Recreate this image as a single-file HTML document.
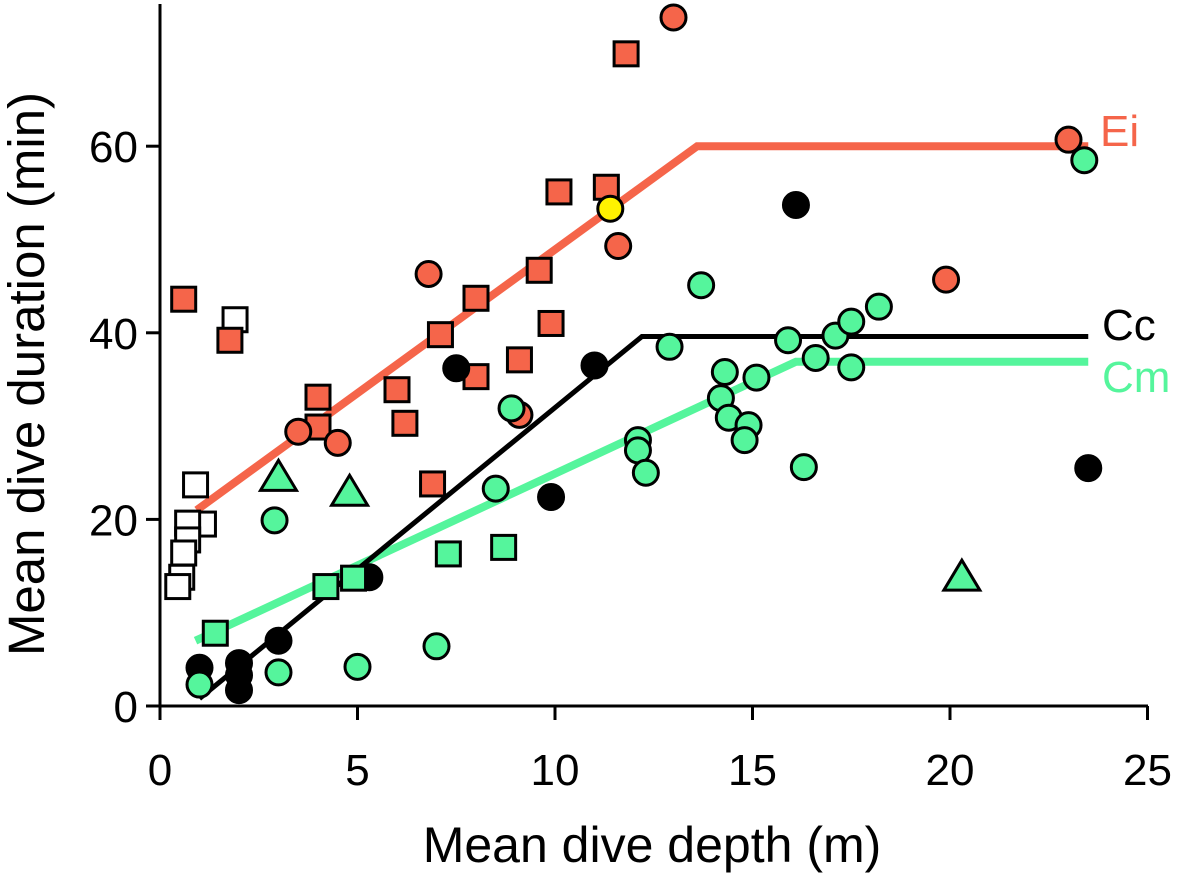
<!DOCTYPE html>
<html><head><meta charset="utf-8"><style>
body{margin:0;background:#fff}
svg{display:block;font-family:"Liberation Sans",sans-serif}
</style></head><body>
<svg id="chart" width="1180" height="878">
<g id="lines"></g><g id="marks"></g><g id="axes"></g>
</svg>
<script>
const xTicks=[0,5,10,15,20,25];
const yTicks=[0,20,40,60];
const eiLine=[[0.93,21],[13.6,60],[23.5,60]];
const ccLine=[[1.0,0.8],[12.2,39.6],[23.5,39.6]];
const cmLine=[[0.9,7],[16.1,36.9],[23.5,36.9]];
const whiteSq=[[1.9,41.4],[0.9,23.7],[1.1,19.5],[0.7,19.6],[0.7,17.8],[0.6,16.4],[0.55,13.8],[0.45,12.8]];
const redSq=[[0.6,43.6],[1.77,39.2],[4.0,33.1],[4.0,29.9],[6.0,33.9],[6.2,30.3],[7.1,39.8],[8.0,43.7],[8.0,35.3],[9.1,37.1],[6.9,23.8],[9.9,41.0],[9.6,46.7],[10.1,55.1],[11.3,55.6],[11.8,69.9]];
const redCi=[[6.8,46.3],[3.5,29.4],[4.5,28.2],[9.1,31.2],[11.6,49.3],[13.0,73.8],[23.0,60.7],[19.9,45.7]];
const yellowCi=[[11.4,53.3]];
const blackCi=[[1.0,4.1],[2.0,4.6],[2.0,3.3],[2.0,1.7],[3.0,7.0],[5.3,13.8],[7.5,36.2],[9.9,22.4],[11.0,36.5],[16.1,53.7],[23.5,25.5]];
const greenCi=[[1.0,2.3],[3.0,3.6],[2.9,19.9],[5.0,4.2],[7.0,6.4],[8.5,23.3],[8.9,31.9],[12.9,38.5],[12.1,28.5],[12.1,27.4],[12.3,25.0],[13.7,45.1],[14.3,35.8],[14.2,33.0],[14.4,30.9],[14.9,30.1],[14.8,28.5],[15.1,35.2],[15.9,39.2],[16.3,25.6],[16.6,37.3],[17.1,39.7],[17.5,41.2],[17.5,36.3],[18.2,42.8],[23.4,58.5]];
const greenSq=[[1.4,7.8],[4.2,12.8],[4.9,13.7],[7.3,16.3],[8.7,17.0]];
const greenTri=[[3.0,24.4],[4.8,22.8],[20.3,13.7]];

const NS="http://www.w3.org/2000/svg";
const X=v=>160+v*39.5, Y=v=>706-v*9.33;
const RED="#F5654A",GREEN="#55F59C";
function mk(tag,attrs,parent,name,txt){const e=document.createElementNS(NS,tag);for(const k in attrs)e.setAttribute(k,attrs[k]);


if(txt!==undefined)e.textContent=txt;parent.appendChild(e);return e;}
const L=document.getElementById('lines'),M=document.getElementById('marks'),A=document.getElementById('axes');
function line(pts,col,w,name){mk('polyline',{points:pts.map(p=>X(p[0])+','+Y(p[1])).join(' '),fill:'none',stroke:col,'stroke-width':w},L,name);}
line(eiLine,RED,8,'ei-fit-line');line(cmLine,GREEN,8,'cm-fit-line');line(ccLine,'#000',5,'cc-fit-line');
function sq(d,fill,name){d.forEach(p=>mk('rect',{x:X(p[0])-12,y:Y(p[1])-12,width:24,height:24,fill:fill,stroke:'#000','stroke-width':3},M,name));}
function ci(d,fill,name){d.forEach(p=>mk('circle',{cx:X(p[0]),cy:Y(p[1]),r:12.5,fill:fill,stroke:'#000','stroke-width':3},M,name));}
function tri(d,name){d.forEach(p=>{const x=X(p[0]),y=Y(p[1]);mk('polygon',{points:`${x},${y-18} ${x+18},${y+12} ${x-18},${y+12}`,fill:GREEN,stroke:'#000','stroke-width':3},M,name);});}
sq(whiteSq,'#fff','unknown-square');sq(redSq,RED,'ei-square');ci(redCi,RED,'ei-circle');
ci(blackCi,'#000','cc-circle');ci(greenCi,GREEN,'cm-circle');sq(greenSq,GREEN,'cm-square');tri(greenTri,'cm-triangle');ci(yellowCi,'#FFF200','yellow-circle');
mk('line',{x1:160,y1:4,x2:160,y2:708,stroke:'#000','stroke-width':3},A,'y-axis');
mk('line',{x1:158,y1:706,x2:1148,y2:706,stroke:'#000','stroke-width':3},A,'x-axis');
xTicks.forEach(t=>{mk('line',{x1:X(t),y1:706,x2:X(t),y2:720,stroke:'#000','stroke-width':3},A,'x-tick');
mk('text',{x:X(t),y:785,'font-size':44,'text-anchor':'middle'},A,'x-tick-label',t);});
yTicks.forEach(t=>{mk('line',{x1:146,y1:Y(t),x2:160,y2:Y(t),stroke:'#000','stroke-width':3},A,'y-tick');
mk('text',{x:138,y:Y(t)+16,'font-size':44,'text-anchor':'end'},A,'y-tick-label',t);});
mk('text',{x:652,y:862,'font-size':50,'text-anchor':'middle'},A,'x-axis-title','Mean dive depth (m)');
mk('text',{x:0,y:0,'font-size':51,'text-anchor':'middle',transform:'translate(44,374) rotate(-90)'},A,'y-axis-title','Mean dive duration (min)');
mk('text',{x:1100,y:146,'font-size':44,fill:RED},A,'ei-label','Ei');
mk('text',{x:1102,y:340,'font-size':44,fill:'#000'},A,'cc-label','Cc');
mk('text',{x:1102,y:392,'font-size':44,fill:GREEN},A,'cm-label','Cm');
</script>
</body></html>
